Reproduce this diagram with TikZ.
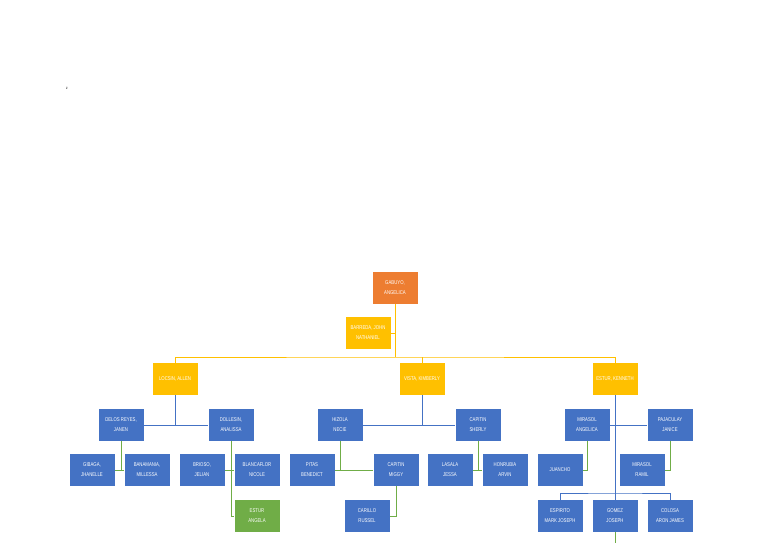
\documentclass[tikz,border=0pt]{standalone}
\usepackage{fontspec}
\setsansfont[FakeStretch=0.78]{Liberation Sans}
\definecolor{orgc}{HTML}{ED7D31}
\definecolor{yelc}{HTML}{FFC000}
\definecolor{bluc}{HTML}{4472C4}
\definecolor{grnc}{HTML}{70AD47}
\begin{document}
\begin{tikzpicture}[x=1pt,y=-1pt,
  box/.style={minimum width=45pt,minimum height=32pt,inner sep=0pt,align=center,text=white,
    font=\sffamily\fontsize{5.5}{10}\selectfont},
  ob/.style={box,fill=orgc}, yb/.style={box,fill=yelc}, bb/.style={box,fill=bluc}, gb/.style={box,fill=grnc},
  yl/.style={draw=yelc,line width=0.8pt}, bl/.style={draw=bluc,line width=0.8pt}, gl/.style={draw=grnc,line width=0.8pt}]
\useasboundingbox[fill=white] (0,0) rectangle (768,543);
\node[font=\sffamily\fontsize{4}{4}\selectfont] (z) at (67,88) {z};
\node[ob] (gab) at (395,288) {GABUYO,\\ANGELICA};
\node[yb] (bar) at (368,333) {BARREDA, JOHN\\NATHANIEL};
\node[yb] (loc) at (175,379) {LOCSIN, ALLEN};
\node[yb] (vis) at (422,379) {VISTA, KIMBERLY};
\node[yb] (ken) at (615,379) {ESTUR, KENNETH};
\node[bb] (del) at (121,425) {DELOS REYES,\\JANEN};
\node[bb] (dol) at (231,425) {DOLLESIN,\\ANALISSA};
\node[bb] (gib) at (92,470) {GIBAGA,\\JHANELLE};
\node[bb] (ban) at (147,470) {BANAMANIA,\\MILLESSA};
\node[bb] (bri) at (202,470) {BRIOSO,\\JELIAN};
\node[bb] (bla) at (257,470) {BLANCAFLOR\\NICOLE};
\node[gb] (ang) at (257,516) {ESTUR\\ANGELA};
\node[bb] (hiz) at (340,425) {HIZOLA\\NECIE};
\node[bb] (she) at (478,425) {CAPITIN\\SHERLY};
\node[bb] (pit) at (312,470) {PITAS\\BENEDICT};
\node[bb] (mig) at (396,470) {CAPITIN\\MIGGY};
\node[bb] (car) at (367,516) {CARILLO\\RUSSEL};
\node[bb] (las) at (450,470) {LASALA\\JESSA};
\node[bb] (hon) at (505,470) {HONRUBIA\\ARVIN};
\node[bb] (mir) at (587,425) {MIRASOL\\ANGELICA};
\node[bb] (paj) at (670,425) {PAJACULAY\\JANICE};
\node[bb] (jua) at (560,470) {JUANCHO};
\node[bb] (ram) at (642,470) {MIRASOL\\RAMIL};
\node[bb] (esp) at (560,516) {ESPIRITO\\MARK JOSEPH};
\node[bb] (gom) at (615,516) {GOMEZ\\JOSEPH};
\node[bb] (col) at (670,516) {COLOSA\\ARON JAMES};
\coordinate (yj) at (395,357);
\coordinate (bj) at (615,493);
\coordinate (ge) at (615,543);
\begin{scope}[on background layer/.try]
\draw[yl] (gab.south) -- (yj);
\draw[yl] (bar.east) -- (bar.east -| gab);
\draw[yl] (loc.north) |- (yj) -| (ken.north);
\draw[yl] (vis.north) -- (vis.north |- yj);
\draw[bl] (loc.south) -- (loc.south |- del) ;
\draw[bl] (del.east) -- (dol.west);
\draw[bl] (vis.south) -- (vis.south |- hiz);
\draw[bl] (hiz.east) -- (she.west);
\draw[bl] (mir.east) -- (paj.west);
\draw[bl] (ken.south) -- (bj);
\draw[bl] (esp.north) |- (bj) -| (col.north);
\draw[bl] (bj) -- (gom.north);
\draw[gl] (del.south) -- (del.south |- gib);
\draw[gl] (gib.east) -- (ban.west);
\draw[gl] (dol.south) |- (ang.west);
\draw[gl] (bri.east) -- (bla.west);
\draw[gl] (hiz.south) -- (hiz.south |- pit);
\draw[gl] (pit.east) -- (mig.west);
\draw[gl] (mig.south) |- (car.east);
\draw[gl] (she.south) -- (she.south |- las);
\draw[gl] (las.east) -- (hon.west);
\draw[gl] (mir.south) |- (jua.east);
\draw[gl] (paj.south) |- (ram.east);
\draw[gl] (gom.south) -- (ge);
\end{scope}
\end{tikzpicture}
\end{document}
